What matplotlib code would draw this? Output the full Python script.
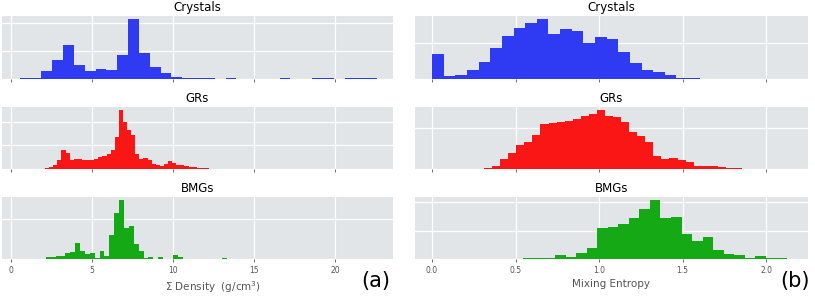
"""
Density and mixing-entropy histograms for Crystals / GRs / BMGs.
Two columns: (a) sum density, (b) mixing entropy.
"""
import numpy as np
import matplotlib
matplotlib.use("Agg")
import matplotlib.pyplot as plt
import matplotlib.ticker as ticker

# ---------------------------------------------------------------------------
# Data (bin counts)
# ---------------------------------------------------------------------------
CLASSES = ["Crystals", "GRs", "BMGs"]

# (a) Σ density, g/cm^3
dens_crystals_range = (0.55, 22.57)
dens_crystals = [1, 1, 14, 34, 61, 26, 15, 18, 17, 43, 108, 46, 21, 11, 3, 1, 1,
                 2, 0, 1, 0, 0, 0, 0, 1, 0, 0, 1, 1, 0, 1, 1, 1]

dens_grs_range = (1.6, 16.0)
dens_grs = [1, 1, 4, 9, 16, 40, 82, 69, 40, 44, 43, 40, 40, 37, 41, 51, 54, 65,
            79, 136, 250, 199, 164, 145, 65, 44, 47, 38, 21, 18, 11, 23, 34, 27,
            16, 16, 11, 9, 7, 6, 4, 3, 1, 1, 1, 1, 0, 0, 0, 1, 1, 1, 0, 0, 0, 0, 1]

dens_bmgs_range = (1.85, 13.3)
dens_bmgs = [1, 4, 5, 8, 7, 14, 18, 40, 19, 12, 16, 2, 20, 8, 60, 114, 147, 78,
             82, 38, 20, 2, 6, 1, 5, 1, 0, 9, 6, 0, 0, 0, 0, 0, 0, 1, 0, 2]

# (b) mixing entropy
ent_crystals_range = (0.0, 1.602)
ent_crystals = [34, 4, 6, 13, 24, 43, 60, 71, 78, 83, 62, 69, 67, 50, 58, 56, 37,
                22, 12, 10, 5, 2, 1]

ent_grs_range = (0.263, 2.0)
ent_grs = [1, 3, 8, 25, 39, 59, 66, 84, 110, 113, 116, 117, 123, 129, 134, 145,
           131, 128, 116, 90, 81, 66, 32, 25, 27, 23, 16, 8, 7, 7, 4, 2, 3, 1, 0, 1]

ent_bmgs_range = (0.547, 2.124)
ent_bmgs = [1, 2, 1, 7, 4, 11, 19, 54, 57, 62, 73, 88, 104, 72, 74, 44, 32, 39,
            16, 8, 7, 2, 5, 2, 2]

dens_ticks = [0, 5, 10, 15, 20]
ent_ticks = [0.0, 0.5, 1.0, 1.5, 2.0]

# ---------------------------------------------------------------------------
# Style
# ---------------------------------------------------------------------------
COLOURS = {"Crystals": "#2f3bf2", "GRs": "#fb1616", "BMGs": "#15a915"}
BG = "#e1e5e7"
TICK_C = "#555555"
GRID_STEP = {  # y gridline spacing per panel
    ("a", "Crystals"): 50, ("a", "GRs"): 100, ("a", "BMGs"): 100,
    ("b", "Crystals"): 50, ("b", "GRs"): 100, ("b", "BMGs"): 50,
}

W, H = 815, 297
ROWS = [(16, 79), (107, 169), (197, 259)]   # pixel top / bottom of each row
COLS = {"a": (2, 393), "b": (415, 808)}     # pixel left / right of each column


def _rect(col, row):
    x0, x1 = COLS[col]
    y0, y1 = ROWS[row]
    return [x0 / W, 1 - y1 / H, (x1 - x0) / W, (y1 - y0) / H]


def _hist(ax, rng, counts, colour):
    edges = np.linspace(rng[0], rng[1], len(counts) + 1)
    ax.hist(edges[:-1], bins=edges, weights=counts, histtype="stepfilled",
            color=colour, linewidth=0)


def _style(ax, step):
    ax.set_facecolor(BG)
    for s in ax.spines.values():
        s.set_visible(False)
    ax.grid(True, color="white", linewidth=0.9)
    ax.set_axisbelow(True)
    ax.yaxis.set_major_locator(ticker.MultipleLocator(step))
    ax.set_yticklabels([])
    ax.tick_params(axis="y", length=0)
    ax.tick_params(axis="x", direction="out", length=2.5, width=0.6,
                   color=TICK_C, labelcolor=TICK_C, labelsize=5.5, pad=2.5)


fig = plt.figure(figsize=(W / 100, H / 100), dpi=100)

panels = {
    "a": [(dens_crystals_range, dens_crystals), (dens_grs_range, dens_grs),
          (dens_bmgs_range, dens_bmgs)],
    "b": [(ent_crystals_range, ent_crystals), (ent_grs_range, ent_grs),
          (ent_bmgs_range, ent_bmgs)],
}

for col, series in panels.items():
    for row, (name, (rng, counts)) in enumerate(zip(CLASSES, series)):
        ax = fig.add_axes(_rect(col, row))
        _hist(ax, rng, counts, COLOURS[name])
        _style(ax, GRID_STEP[(col, name)])
        ax.set_title(name, fontsize=8.5, pad=3.5)
        if col == "a":
            ax.set_xlim(-0.55, 23.55)
            ax.set_xticks(dens_ticks)
        else:
            ax.set_xlim(-0.102, 2.25)
            ax.set_xticks(ent_ticks)
            ax.xaxis.set_major_formatter(ticker.FormatStrFormatter("%.1f"))
        if row < 2:
            ax.set_xticklabels([])
        elif col == "a":
            ax.set_xlabel(r"Σ Density  (g/cm$^3$)", fontsize=7.5,
                          color=TICK_C, labelpad=3, x=0.54)
        else:
            ax.set_xlabel("Mixing Entropy", fontsize=7.5, color=TICK_C,
                          labelpad=3)

fig.text(0.461, 0.054, "(a)", fontsize=15, ha="center", va="center")
fig.text(0.976, 0.054, "(b)", fontsize=15, ha="center", va="center")

fig.savefig("out.png", dpi=100)
